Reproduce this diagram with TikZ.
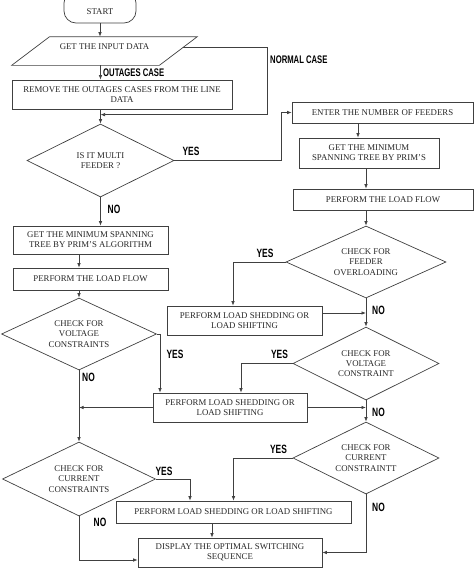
\documentclass[tikz,border=0pt]{standalone}
\usepackage{fontspec}
\setmainfont{Liberation Serif}
\newfontfamily\lblfont[FakeStretch=0.7]{Liberation Sans}
\usetikzlibrary{arrows.meta, calc, shapes.geometric}

\tikzset{
	box/.style={draw=black!75, line width=0.7pt, align=center, inner sep=1pt,
		font=\fontsize{8.8}{10.2}\selectfont, text=black!85},
	decision/.style={box, diamond, aspect=2, inner sep=0pt},
	lbl/.style={font=\lblfont\bfseries\fontsize{12}{12}\selectfont, inner sep=0pt},
	caselbl/.style={font=\lblfont\bfseries\fontsize{11}{11}\selectfont, inner sep=0pt, anchor=west},
	arr/.style={draw=black!75, line width=0.7pt, -{Latex[length=4.5pt,width=3.5pt]}},
}

\begin{document}
\begin{tikzpicture}[x=1pt, y=-1pt]
	\useasboundingbox (0,0) rectangle (474,568);
	%\draw[help lines, step=10] (0,0) grid (474,568);
	
	\node[box, rounded corners=12pt, minimum width=72pt, minimum height=32pt] (start) at (100,7) {\raisebox{-7.5pt}[0pt][0pt]{START}};
	\node[box, draw=none, minimum width=185pt, minimum height=28pt] (input) at (104.5,51) {\raisebox{2pt}[0pt][0pt]{GET THE INPUT DATA}};
	\draw[draw=black!75, line width=0.7pt] (input.south west) -- ([xshift=38pt]input.north west)
		-- (input.north east) -- ([xshift=-38pt]input.south east) -- cycle;
	
	\foreach \n\x\y\w\h\t in {remove/122/94.5/220/29/{REMOVE THE OUTAGES CASES FROM THE LINE\\DATA},
		prim/90.5/240/155/28/{GET THE MINIMUM SPANNING\\TREE BY PRIM’S ALGORITHM},
		flow/90.5/279/155/22/{PERFORM THE LOAD FLOW},
		shedM/230/407.5/154/29/{PERFORM LOAD SHEDDING OR\\LOAD SHIFTING},
		shedW/233.5/512/235/22/{PERFORM LOAD SHEDDING OR LOAD SHIFTING},
		display/230/552.5/184/29/{DISPLAY THE OPTIMAL SWITCHING\\SEQUENCE},
		feeders/382.5/112.5/181/21/{ENTER THE NUMBER OF FEEDERS},
		primR/369/153/140/30/{GET THE MINIMUM\\SPANNING TREE BY PRIM’S},
		flowR/383/199.5/180/21/{PERFORM THE LOAD FLOW},
		shedR/244.5/320.5/155/29/{PERFORM LOAD SHEDDING OR\\LOAD SHIFTING}}
	\node[box, minimum width=\w pt, minimum height=\h pt] (\n) at (\x,\y) {\t};
	
	\foreach \n\x\y\w\h\t in {multi/100.5/160.5/147/73/{IS IT MULTI\\FEEDER ?},
		voltL/79/334/155/72/{CHECK FOR\\VOLTAGE\\CONSTRAINTS},
		currL/79/479/153/74/{CHECK FOR\\CURRENT\\CONSTRAINTS},
		over/366/262/160/72/{CHECK FOR\\FEEDER\\OVERLOADING},
		voltR/366/363.5/146/73/{CHECK FOR\\VOLTAGE\\CONSTRAINT},
		currR/366/458/146/72/{CHECK FOR\\CURRENT\\CONSTRAINTT}}
	\node[decision, minimum width=\w pt, minimum height=\h pt] (\n) at (\x,\y) {\t};
	
	\foreach \n\x\y\t in {yMulti/191/151/YES, nMulti/114/209/NO,
		yVoltL/175/354/YES, nVoltL/88.5/377/NO, yCurrL/164/471/YES, nCurrL/100/522/NO,
		yOver/265/253/YES, nOver/378.5/310/NO, yVoltR/279.5/354/YES, nVoltR/378.5/412/NO,
		yCurrR/278.5/449/YES, nCurrR/378.5/507/NO}
	\node[lbl] (\n) at (\x,\y) {\t};
	
	\node[caselbl] (outages) at (103,73) {OUTAGES CASE};
	\node[caselbl] (normal) at (270,60) {NORMAL CASE};
	
	% left branch
	\draw[arr] (start.south) -- (start.south |- input.north);
	\draw[arr] (input.south -| multi.north) -- (remove.north -| multi.north);
	\draw[arr] (multi.north |- remove.south) -- (multi.north);
	\coordinate (merge) at ($(multi.north)+(0,-9)$);
	\draw[arr] ($(input.north east)!0.39!([xshift=-38pt]input.south east)$) -- ++(85,0) |- (merge);
	\draw[arr] (multi.south) -- (multi.south |- prim.north);
	\draw[arr] (prim.south -| voltL.north) -- (flow.north -| voltL.north);
	\draw[arr] (flow.south -| voltL.north) -- (voltL.north);
	\draw[arr] (voltL.south) -- (currL.north);
	\draw[arr] (voltL.east) -| ([xshift=-70pt]shedM.north);
	\draw[arr] (shedM.west) -- (shedM.west -| voltL.south);
	\draw[arr] (currL.east) -| ([xshift=-43.5pt]shedW.north);
	\draw[arr] (currL.south) |- ([yshift=-7.5pt]display.west);
	\draw[arr] ([xshift=-21.5pt]shedW.south) -- ([xshift=-18pt]display.north);
	
	% right branch
	\draw[arr] (multi.east) -| ([xshift=-10pt]feeders.west) -- (feeders.west);
	\draw[arr] ([xshift=-24.5pt]feeders.south) -- ([xshift=-11pt]primR.north);
	\draw[arr] (primR.south -| over.north) -- (flowR.north -| over.north);
	\draw[arr] (flowR.south -| over.north) -- (over.north);
	\draw[arr] (over.west) -| ([xshift=-11.5pt]shedR.north);
	\draw[arr] ([yshift=7.5pt]shedR.east) coordinate (sr) -- (sr -| over.south);
	\draw[arr] (over.south) -- (voltR.north);
	\draw[arr] (voltR.west) -| ([xshift=11pt]shedM.north);
	\draw[arr] (shedM.east) -- (shedM.east -| voltR.south);
	\draw[arr] (voltR.south) -- (currR.north);
	\draw[arr] (currR.west) -| (shedW.north);
	\draw[arr] (currR.south) |- (display.east);
\end{tikzpicture}
\end{document}
